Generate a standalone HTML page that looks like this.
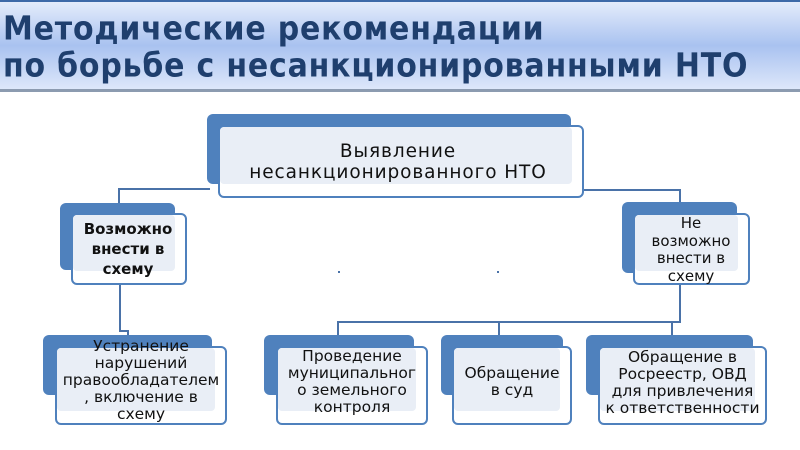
<!DOCTYPE html>
<html><head><meta charset="utf-8"><style>
body{margin:0;width:800px;height:450px;background:#fff;position:relative;overflow:hidden;font-family:"DejaVu Sans","Liberation Sans",sans-serif;}
.t{position:absolute;left:0;top:0;width:800px;height:92px;background:linear-gradient(#e4ecfb,#a9c2f0 50%,#dde7fa);border-top:2px solid #3e6aa8;border-bottom:3px solid #8c9bb0;box-sizing:border-box;}
.t div{position:absolute;left:3px;font:bold 30px "DejaVu Sans","Liberation Sans",sans-serif;color:#1f3f6e;white-space:nowrap;letter-spacing:0.8px;transform:scaleY(1.1);transform-origin:left top}
.b{position:absolute;background:#4f81bd;border-radius:6px}
.f{position:absolute;background:#fff;border:2px solid #4f81bd;border-radius:6px;box-sizing:border-box}
.f i{position:absolute;left:0;top:0;right:10px;bottom:12px;background:#e9eef6;border-radius:4px}
.x{position:absolute;text-align:center;color:#111;font-size:15.5px;line-height:17px;white-space:nowrap}
.l{position:absolute;background:#4a72a8}
</style></head><body>
<div class="t"><div style="top:8px">Методические рекомендации</div><div style="top:45px">по борьбе с несанкционированными НТО</div></div>

<div class="l" style="left:118px;top:188px;width:92px;height:2px"></div>
<div class="l" style="left:118px;top:188px;width:2px;height:16px"></div>
<div class="l" style="left:582px;top:189px;width:98px;height:2px"></div>
<div class="l" style="left:679px;top:189px;width:2px;height:14px"></div>
<div class="l" style="left:119px;top:285px;width:2px;height:46px"></div>
<div class="l" style="left:119px;top:330px;width:9px;height:2px"></div>
<div class="l" style="left:127px;top:330px;width:2px;height:6px"></div>
<div class="l" style="left:679px;top:285px;width:2px;height:38px"></div>
<div class="l" style="left:337px;top:321px;width:344px;height:2px"></div>
<div class="l" style="left:337px;top:321px;width:2px;height:15px"></div>
<div class="l" style="left:498px;top:321px;width:2px;height:15px"></div>
<div class="l" style="left:671px;top:321px;width:2px;height:15px"></div>
<div class="l" style="left:338px;top:271px;width:2px;height:2px"></div>
<div class="l" style="left:497px;top:271px;width:2px;height:2px"></div>

<div class="b" style="left:207px;top:114px;width:364px;height:70px"></div>
<div class="f" style="left:218px;top:125px;width:366px;height:73px"><i></i></div>
<div class="x" style="left:218px;top:141px;width:360px;font-size:18.5px;line-height:21px;letter-spacing:0.9px">Выявление<br>несанкционированного НТО</div>

<div class="b" style="left:60px;top:203px;width:115px;height:67px"></div>
<div class="f" style="left:71px;top:213px;width:116px;height:72px"><i></i></div>
<div class="x" style="left:71px;top:219px;width:114px;font-weight:bold;font-size:15px;line-height:20px">Возможно<br>внести в<br>схему</div>

<div class="b" style="left:622px;top:202px;width:115px;height:71px"></div>
<div class="f" style="left:633px;top:213px;width:117px;height:72px"><i></i></div>
<div class="x" style="left:633px;top:215px;width:116px;font-size:15px;line-height:17.5px">Не<br>возможно<br>внести в<br>схему</div>

<div class="b" style="left:43px;top:335px;width:169px;height:60px"></div>
<div class="f" style="left:55px;top:346px;width:172px;height:79px"><i></i></div>
<div class="x" style="left:55px;top:338px;width:172px">Устранение<br>нарушений<br>правообладателем<br>, включение в<br>схему</div>

<div class="b" style="left:264px;top:335px;width:150px;height:60px"></div>
<div class="f" style="left:276px;top:346px;width:152px;height:79px"><i></i></div>
<div class="x" style="left:276px;top:348px;width:152px">Проведение<br>муниципальног<br>о земельного<br>контроля</div>

<div class="b" style="left:441px;top:335px;width:122px;height:60px"></div>
<div class="f" style="left:452px;top:346px;width:120px;height:79px"><i></i></div>
<div class="x" style="left:452px;top:365px;width:120px">Обращение<br>в суд</div>

<div class="b" style="left:586px;top:335px;width:167px;height:60px"></div>
<div class="f" style="left:598px;top:346px;width:169px;height:79px"><i></i></div>
<div class="x" style="left:598px;top:349px;width:169px">Обращение в<br>Росреестр, ОВД<br>для привлечения<br>к ответственности</div>
</body></html>
